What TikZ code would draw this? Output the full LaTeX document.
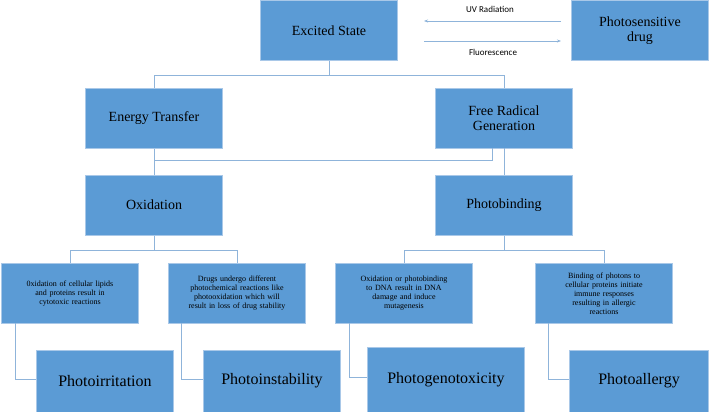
\documentclass[tikz,border=0pt]{standalone}
\usepackage{fontspec}
\usetikzlibrary{arrows.meta}
\setmainfont{Liberation Serif}
\newfontfamily\lblfont{Carlito}
\definecolor{boxfill}{HTML}{5B9BD5}
\definecolor{boxdraw}{HTML}{A9C8E8}
\definecolor{linec}{HTML}{8FB4DA}
\begin{document}
\begin{tikzpicture}[x=1pt,y=-1pt,
  box/.style={draw=boxdraw,line width=1pt,fill=boxfill,inner sep=2pt,align=center,text=black},
  big/.style={box,font=\fontsize{14}{15}\selectfont,minimum width=137pt,minimum height=60pt},
  desc/.style={box,font=\fontsize{8}{9}\selectfont,minimum width=137pt,minimum height=60pt,anchor=north,text width=130pt},
  bot/.style={box,font=\fontsize{16}{18}\selectfont,minimum width=137pt,minimum height=62pt},
  conn/.style={draw=linec,line width=0.8pt},
  arr/.style={draw=linec,line width=0.8pt,-{Stealth[length=4pt]}},
  lbl/.style={font=\lblfont\fontsize{9}{10}\selectfont}]
\useasboundingbox (0,0) rectangle (709,412);
\node[big] (es) at (329,31) {Excited State};
\node[big] (pd) at (640,31) {Photosensitive\\drug};
\coordinate (uvs) at (561,21); \coordinate (uve) at (424,21);
\coordinate (fls) at (424,41); \coordinate (fle) at (561,41);
\draw[arr] (uvs) -- (uve);
\draw[arr] (fls) -- (fle);
\node[lbl] (uv) at (490,9) {UV Radiation};
\node[lbl] (fl) at (493,52) {Fluorescence};
\node[big] (et) at (154,118) {Energy Transfer};
\node[big] (fr) at (504,118) {Free Radical\\Generation};
\node[big] (ox) at (154,205) {Oxidation};
\node[big] (pb) at (504,205) {Photobinding};
\draw[conn] (es.south) -- (329,75) -| (et.north);
\draw[conn] (329,75) -| (fr.north);
\draw[conn] (et.south) -- (154,160) -| (492,148);
\draw[conn] (154,160) -- (ox.north);
\draw[conn] (504,148) -- (pb.north);
\node[desc] (d1) at (70,263) {0xidation of cellular lipids\\and proteins result in\\cytotoxic reactions};
\node[desc] (d2) at (237,263) {Drugs undergo different\\photochemical reactions like\\photooxidation which will\\result in loss of drug stability};
\node[desc] (d3) at (404,263) {Oxidation or photobinding\\to DNA result in DNA\\damage and induce\\mutagenesis};
\node[desc] (d4) at (604,263) {Binding of photons to\\cellular proteins initiate\\immune responses\\resulting in allergic\\reactions};
\draw[conn] (ox.south) -- (154,250) -| (d1.north);
\draw[conn] (154,250) -| (d2.north);
\draw[conn] (pb.south) -- (504,250) -| (d3.north);
\draw[conn] (504,250) -| (d4.north);
\node[bot] (b1) at (105,381) {Photoirritation};
\node[bot] (b2) at (272,381) {Photoinstability};
\node[bot,minimum width=157pt,minimum height=65pt] (b3) at (446,380) {Photogenotoxicity};
\node[bot,minimum width=139pt] (b4) at (639,381) {Photoallergy};
\draw[conn] (15,323) |- (b1.west|-0,379);
\draw[conn] (181,323) |- (b2.west|-0,379);
\draw[conn] (349,323) |- (b3.west|-0,377);
\draw[conn] (548,323) |- (b4.west|-0,379);
\end{tikzpicture}
\end{document}
